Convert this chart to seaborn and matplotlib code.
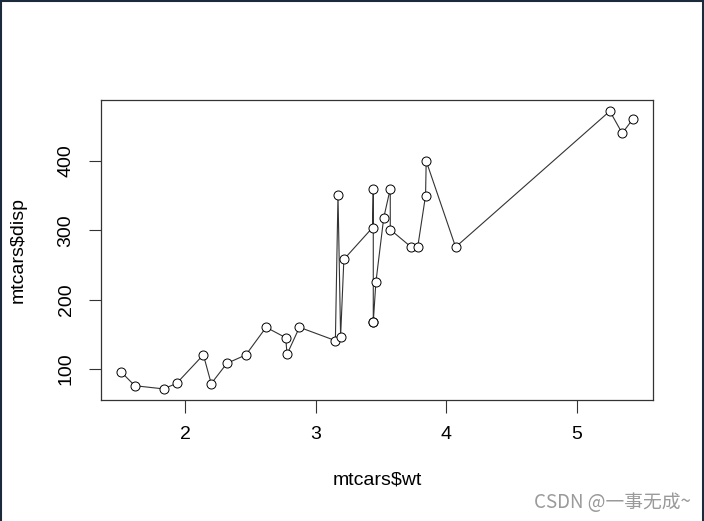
import numpy as np
import pandas as pd
import seaborn as sns
import matplotlib.pyplot as plt
from matplotlib.lines import Line2D

# mtcars: weight (1000 lbs) and displacement (cu.in.)
wt = [2.620, 2.875, 2.320, 3.215, 3.440, 3.460, 3.570, 3.190, 3.150, 3.440,
      3.440, 4.070, 3.730, 3.780, 5.250, 5.424, 5.345, 2.200, 1.615, 1.835,
      2.465, 3.520, 3.435, 3.840, 3.845, 1.935, 2.140, 1.513, 3.170, 2.770,
      3.570, 2.780]
disp = [160.0, 160.0, 108.0, 258.0, 360.0, 225.0, 360.0, 146.7, 140.8, 167.6,
        167.6, 275.8, 275.8, 275.8, 472.0, 460.0, 440.0, 78.7, 75.7, 71.1,
        120.1, 318.0, 304.0, 350.0, 400.0, 79.0, 120.3, 95.1, 351.0, 145.0,
        301.0, 121.0]
x_ticks = [2, 3, 4, 5]
y_ticks = [100, 200, 300, 400]

mtcars = pd.DataFrame({"wt": wt, "disp": disp})
# plot(sort(wt), disp[order(wt)], type="b") -- stable ordering like R
mtcars = mtcars.sort_values("wt", kind="mergesort").reset_index(drop=True)

sns.set_style("ticks")
plt.rcParams["font.family"] = ["Liberation Sans", "DejaVu Sans"]

fig = plt.figure(figsize=(7.04, 5.21), dpi=100)
ax = fig.add_axes([101 / 704, 1 - 400 / 521, 552 / 704, 300 / 521])

sns.lineplot(data=mtcars, x="wt", y="disp", sort=False, estimator=None,
             color="#333333", linewidth=0.8, marker="o", markersize=6.5,
             markerfacecolor="white", markeredgecolor="black",
             markeredgewidth=0.7, ax=ax)

# R style axis ranges (4% padding)
xr = mtcars["wt"].max() - mtcars["wt"].min()
yr = mtcars["disp"].max() - mtcars["disp"].min()
ax.set_xlim(mtcars["wt"].min() - 0.04 * xr, mtcars["wt"].max() + 0.04 * xr)
ax.set_ylim(mtcars["disp"].min() - 0.04 * yr, mtcars["disp"].max() + 0.04 * yr)

ax.set_xticks(x_ticks)
ax.set_yticks(y_ticks)
ax.tick_params(axis="both", length=9, width=0.8, color="#333333",
               labelsize=14, labelcolor="black", pad=10)
for lab in ax.get_yticklabels():
    lab.set_rotation(90)
    lab.set_va("center")
for s in ax.spines.values():
    s.set_visible(True)
    s.set_color("#333333")
    s.set_linewidth(0.9)

ax.set_xlabel("mtcars\\$wt", fontsize=14, labelpad=20, color="black")
ax.set_ylabel("mtcars\\$disp", fontsize=14, labelpad=22, color="black")

fig.text(0.982, 0.036, "CSDN @一事无成~", ha="right", va="center",
         fontsize=13.5, color="#9a9a9a",
         family=["Noto Sans CJK SC", "DejaVu Sans"])

# dark frame round the screenshot (left, top, right only)
W, H = 704, 521
frame = "#1c2b3b"
fig.add_artist(Line2D([1 / W, 1 / W], [0, 1], transform=fig.transFigure,
                      color=frame, linewidth=1.5))
fig.add_artist(Line2D([0, 1], [1 - 1 / H, 1 - 1 / H], transform=fig.transFigure,
                      color=frame, linewidth=1.5))
fig.add_artist(Line2D([1 - 1.5 / W, 1 - 1.5 / W], [0, 1],
                      transform=fig.transFigure, color=frame, linewidth=2.2))

fig.savefig("out.png", dpi=100)
